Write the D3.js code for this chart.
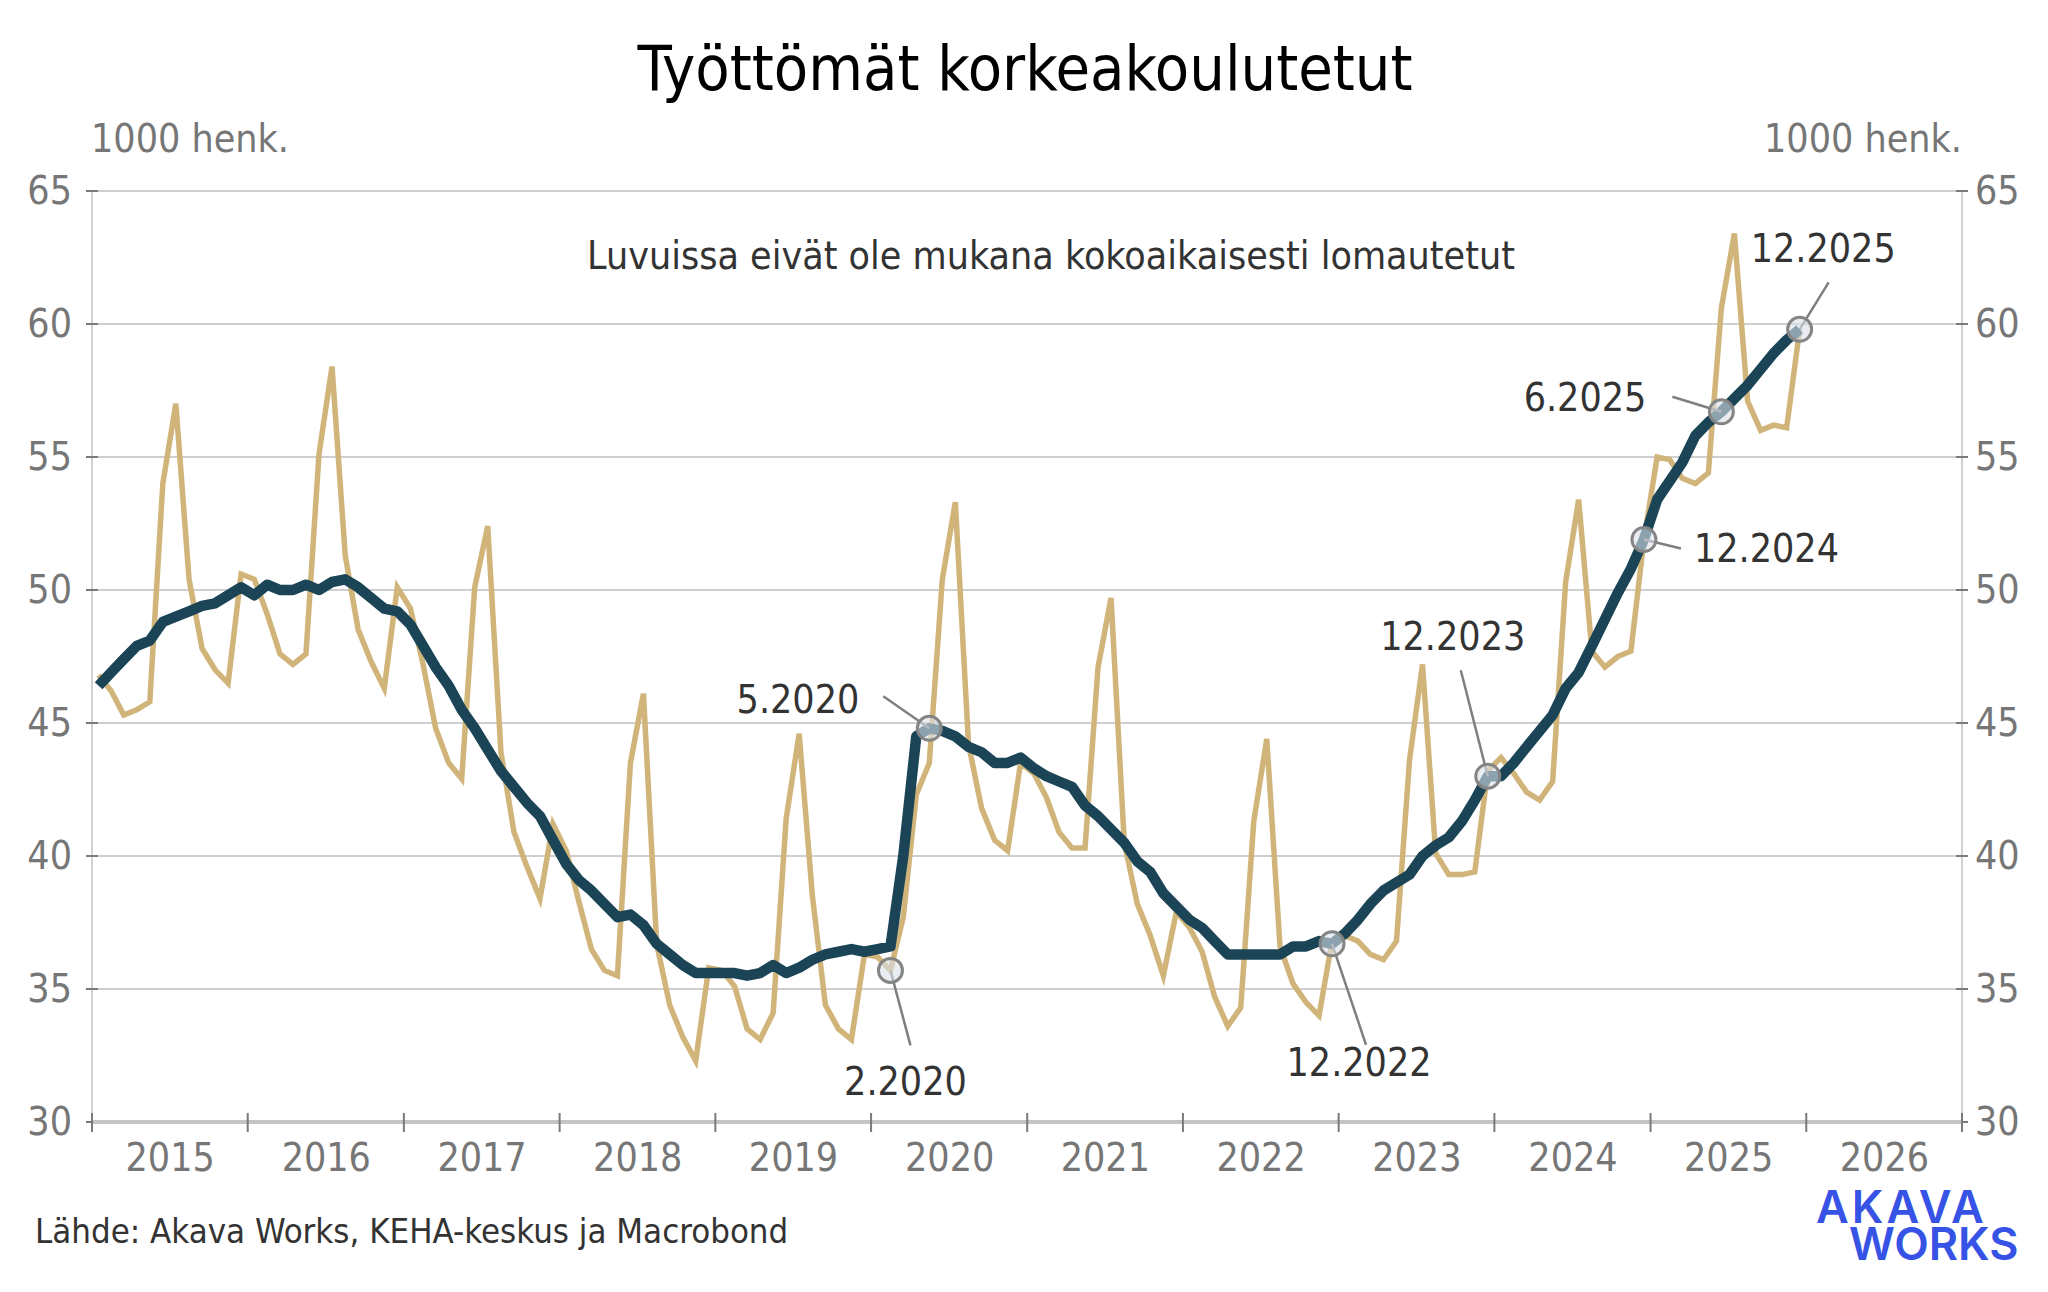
<!DOCTYPE html>
<html>
<head>
<meta charset="utf-8">
<script src="https://cdn.jsdelivr.net/npm/d3@7"></script>
<style>
  body { margin: 0; background: #fff; }
  #chart { position: relative; width: 2048px; height: 1292px; }
  text { font-family: "DejaVu Sans Condensed", "DejaVu Sans", sans-serif; }
  .logo {
    position: absolute; left: 1816px; top: 1188px;
    font-family: Inter, "DejaVu Sans", sans-serif;
    font-size: 45px; font-weight: 600; line-height: 37px;
    color: #3653e6;
  }
  .logo div { height: 37px; overflow: visible; white-space: nowrap; }
</style>
</head>
<body>
<div id="chart"></div>
<script>
// Monthly values, Jan 2015 .. Dec 2025 (1000 persons)
const firstMonth = new Date(2015, 0, 1);

// unadjusted monthly figure (tan line)
const actual = [
  46.8, 46.2, 45.3, 45.5, 45.8, 54.0, 57.0, 50.4, 47.8, 47.0, 46.5, 50.6, // 2015
  50.4, 49.1, 47.6, 47.2, 47.6, 55.1, 58.4, 51.3, 48.5, 47.3, 46.3, 50.1, // 2016
  49.3, 47.2, 44.8, 43.5, 42.9, 50.1, 52.4, 43.9, 40.9, 39.6, 38.4, 41.2, // 2017
  40.2, 38.3, 36.5, 35.7, 35.5, 43.5, 46.1, 36.7, 34.4, 33.2, 32.3, 35.8, // 2018
  35.7, 35.1, 33.5, 33.1, 34.1, 41.4, 44.6, 38.5, 34.4, 33.5, 33.1, 36.3, // 2019
  36.2, 35.7, 37.7, 42.3, 43.5, 50.4, 53.3, 44.2, 41.8, 40.6, 40.2, 43.5, // 2020
  43.1, 42.2, 40.9, 40.3, 40.3, 47.1, 49.7, 40.5, 38.2, 37.0, 35.5, 37.9, // 2021
  37.3, 36.4, 34.7, 33.6, 34.3, 41.3, 44.4, 36.6, 35.2, 34.5, 34.0, 36.8, // 2022
  37.0, 36.8, 36.3, 36.1, 36.8, 43.6, 47.2, 40.1, 39.3, 39.3, 39.4, 43.2, // 2023
  43.7, 43.1, 42.4, 42.1, 42.8, 50.3, 53.4, 47.7, 47.1, 47.5, 47.7, 51.9, // 2024
  55.0, 54.9, 54.2, 54.0, 54.4, 60.6, 63.4, 57.1, 56.0, 56.2, 56.1, 59.8  // 2025
];

// trend (thick dark line)
const trend = [
  46.4, 46.9, 47.4, 47.9, 48.1, 48.8, 49.0, 49.2, 49.4, 49.5, 49.8, 50.1, // 2015
  49.8, 50.2, 50.0, 50.0, 50.2, 50.0, 50.3, 50.4, 50.1, 49.7, 49.3, 49.2, // 2016
  48.7, 47.9, 47.1, 46.4, 45.5, 44.8, 44.0, 43.2, 42.6, 42.0, 41.5, 40.6, // 2017
  39.7, 39.1, 38.7, 38.2, 37.7, 37.8, 37.4, 36.7, 36.3, 35.9, 35.6, 35.6, // 2018
  35.6, 35.6, 35.5, 35.6, 35.9, 35.6, 35.8, 36.1, 36.3, 36.4, 36.5, 36.4, // 2019
  36.5, 36.6, 40.0, 44.5, 44.8, 44.7, 44.5, 44.1, 43.9, 43.5, 43.5, 43.7, // 2020
  43.3, 43.0, 42.8, 42.6, 41.9, 41.5, 41.0, 40.5, 39.8, 39.4, 38.6, 38.1, // 2021
  37.6, 37.3, 36.8, 36.3, 36.3, 36.3, 36.3, 36.3, 36.6, 36.6, 36.8, 36.7, // 2022
  37.1, 37.6, 38.2, 38.7, 39.0, 39.3, 40.0, 40.4, 40.7, 41.3, 42.1, 43.0, // 2023
  43.0, 43.5, 44.1, 44.7, 45.3, 46.3, 46.9, 47.9, 48.9, 49.9, 50.8, 51.9, // 2024
  53.4, 54.1, 54.8, 55.8, 56.3, 56.7, 57.2, 57.7, 58.3, 58.9, 59.4, 59.8  // 2025
];

const yearLabels = [2015, 2016, 2017, 2018, 2019, 2020, 2021, 2022, 2023, 2024, 2025, 2026];
const yTicks = [30, 35, 40, 45, 50, 55, 60, 65];

// highlighted months: label, month index from Jan 2015, which series the marker sits on
const callouts = [
  { label: "5.2020",  month: 64,  series: "trend" },
  { label: "2.2020",  month: 61,  series: "actual" },
  { label: "12.2022", month: 95,  series: "trend" },
  { label: "12.2023", month: 107, series: "trend" },
  { label: "12.2024", month: 119, series: "trend" },
  { label: "6.2025",  month: 125, series: "trend" },
  { label: "12.2025", month: 131, series: "trend" }
];

// where each callout's leader ends and its text sits, relative to the marker
const calloutLayout = {
  "5.2020":  { lx: -46, ly: -32, tx: -70, ty: -15, anchor: "end" },
  "2.2020":  { lx: 20,  ly: 75,  tx: 15,  ty: 125, anchor: "middle" },
  "12.2022": { lx: 34,  ly: 101, tx: 27,  ty: 132, anchor: "middle" },
  "12.2023": { lx: -27, ly: -106, tx: -35, ty: -126, anchor: "middle" },
  "12.2024": { lx: 37,  ly: 9,   tx: 50,  ty: 23,  anchor: "start" },
  "6.2025":  { lx: -49, ly: -15, tx: -75, ty: -1,  anchor: "end" },
  "12.2025": { lx: 29,  ly: -47, tx: -49, ty: -67, anchor: "start" }
};

const width = 2048;
const height = 1292;
const plot = { left: 92, right: 1962, top: 191, bottom: 1122 };

const svg = d3.select("#chart")
  .append("svg")
  .attr("width", width)
  .attr("height", height);

const x = d3.scaleTime()
  .domain([new Date(2015, 0, 1), new Date(2027, 0, 1)])
  .range([plot.left, plot.right]);

const y = d3.scaleLinear()
  .domain([30, 65])
  .range([plot.bottom, plot.top]);

const months = actual.map((d, i) => d3.timeMonth.offset(firstMonth, i));
// points sit in the middle of their month
const midMonth = d => (x(d) + x(d3.timeMonth.offset(d, 1))) / 2;

// Title and notes
svg.append("text")
  .attr("x", 1025).attr("y", 90)
  .attr("text-anchor", "middle")
  .style("font-size", "62.5px")
  .style("fill", "#000")
  .text("Työttömät korkeakoulutetut");

svg.append("text")
  .attr("x", plot.left - 1).attr("y", 152)
  .style("font-size", "39px").style("fill", "#767676")
  .text("1000 henk.");

svg.append("text")
  .attr("x", plot.right).attr("y", 152)
  .attr("text-anchor", "end")
  .style("font-size", "39px").style("fill", "#767676")
  .text("1000 henk.");

// Gridlines
svg.append("g")
  .selectAll("line")
  .data(yTicks.filter(d => d > 30))
  .join("line")
  .attr("x1", plot.left).attr("x2", plot.right)
  .attr("y1", d => y(d)).attr("y2", d => y(d))
  .style("stroke", "#cfcfcf")
  .style("stroke-width", 2);

// vertical axis lines
[plot.left, plot.right].forEach(px => {
  svg.append("line")
    .attr("x1", px).attr("x2", px)
    .attr("y1", plot.top).attr("y2", plot.bottom)
    .style("stroke", "#d2d2d2").style("stroke-width", 2);
});

// y tick labels (both sides)
const leftAxis = d3.axisLeft(y).tickValues(yTicks).tickSize(0).tickPadding(20);
const rightAxis = d3.axisRight(y).tickValues(yTicks).tickSize(0).tickPadding(13);

svg.append("g")
  .attr("transform", `translate(${plot.left},0)`)
  .call(leftAxis)
  .call(g => g.select(".domain").remove());

svg.append("g")
  .attr("transform", `translate(${plot.right},0)`)
  .call(rightAxis)
  .call(g => g.select(".domain").remove());

svg.selectAll(".tick text")
  .style("font-family", "'DejaVu Sans Condensed', 'DejaVu Sans', sans-serif")
  .style("font-size", "39px")
  .style("fill", "#767676");

// small tick marks crossing the y axes
[plot.left, plot.right].forEach(px => {
  svg.append("g")
    .selectAll("line")
    .data(yTicks)
    .join("line")
    .attr("x1", px - 6).attr("x2", px + 6)
    .attr("y1", d => y(d)).attr("y2", d => y(d))
    .style("stroke", "#7a7a7a").style("stroke-width", 2);
});

// x axis line
svg.append("line")
  .attr("x1", plot.left).attr("x2", plot.right)
  .attr("y1", plot.bottom).attr("y2", plot.bottom)
  .style("stroke", "#c4c4c4").style("stroke-width", 4);

// year boundary ticks
const yearStarts = yearLabels.map(yr => new Date(yr, 0, 1)).concat([new Date(2027, 0, 1)]);
svg.append("g")
  .selectAll("line")
  .data(yearStarts)
  .join("line")
  .attr("x1", d => x(d)).attr("x2", d => x(d))
  .attr("y1", plot.bottom - 9).attr("y2", plot.bottom + 10)
  .style("stroke", "#7a7a7a").style("stroke-width", 2);

// year labels centred on each year
const xAxis = d3.axisBottom(x)
  .tickValues(yearLabels.map(yr => new Date(yr, 6, 2)))
  .tickFormat(d3.timeFormat("%Y"))
  .tickSize(0)
  .tickPadding(21);

svg.append("g")
  .attr("transform", `translate(0,${plot.bottom})`)
  .call(xAxis)
  .call(g => g.select(".domain").remove())
  .selectAll("text")
  .style("font-family", "'DejaVu Sans Condensed', 'DejaVu Sans', sans-serif")
  .style("font-size", "39px")
  .style("fill", "#767676");

// note inside the plot
svg.append("text")
  .attr("x", 1051).attr("y", 269)
  .attr("text-anchor", "middle")
  .style("font-size", "39px").style("fill", "#333")
  .text("Luvuissa eivät ole mukana kokoaikaisesti lomautetut");

// Lines
const line = d3.line()
  .x((d, i) => midMonth(months[i]))
  .y(d => y(d));

svg.append("path")
  .datum(actual)
  .attr("d", line)
  .style("fill", "none")
  .style("stroke", "#d1b47a")
  .style("stroke-width", 5.5)
  .style("stroke-linejoin", "miter");

svg.append("path")
  .datum(trend)
  .attr("d", line)
  .style("fill", "none")
  .style("stroke", "#1b4557")
  .style("stroke-width", 10.5)
  .style("stroke-linejoin", "round");

// Callouts
const seriesByName = { actual: actual, trend: trend };
const mx = d => midMonth(months[d.month]);
const my = d => y(seriesByName[d.series][d.month]);

svg.append("g")
  .selectAll("line")
  .data(callouts)
  .join("line")
  .attr("x1", mx).attr("y1", my)
  .attr("x2", d => mx(d) + calloutLayout[d.label].lx)
  .attr("y2", d => my(d) + calloutLayout[d.label].ly)
  .style("stroke", "#7f7f7f").style("stroke-width", 2.5);

svg.append("g")
  .selectAll("circle")
  .data(callouts)
  .join("circle")
  .attr("cx", mx).attr("cy", my)
  .attr("r", 12)
  .style("fill", "#dbe1ea").style("fill-opacity", 0.6)
  .style("stroke", "#858585").style("stroke-width", 3);

svg.append("g")
  .selectAll("text")
  .data(callouts)
  .join("text")
  .attr("x", d => mx(d) + calloutLayout[d.label].tx)
  .attr("y", d => my(d) + calloutLayout[d.label].ty)
  .attr("text-anchor", d => calloutLayout[d.label].anchor)
  .style("font-size", "39px").style("fill", "#333")
  .text(d => d.label);

// Source and logo
svg.append("text")
  .attr("x", 35).attr("y", 1243)
  .style("font-size", "34.5px").style("fill", "#333")
  .text("Lähde: Akava Works, KEHA-keskus ja Macrobond");

// logo: two stacked block lines
const logo = d3.select("#chart").append("div").attr("class", "logo");
logo.append("div").style("letter-spacing", "3px").text("AKAVA");
logo.append("div").style("padding-left", "33px").text("WORKS");
</script>
</body>
</html>
